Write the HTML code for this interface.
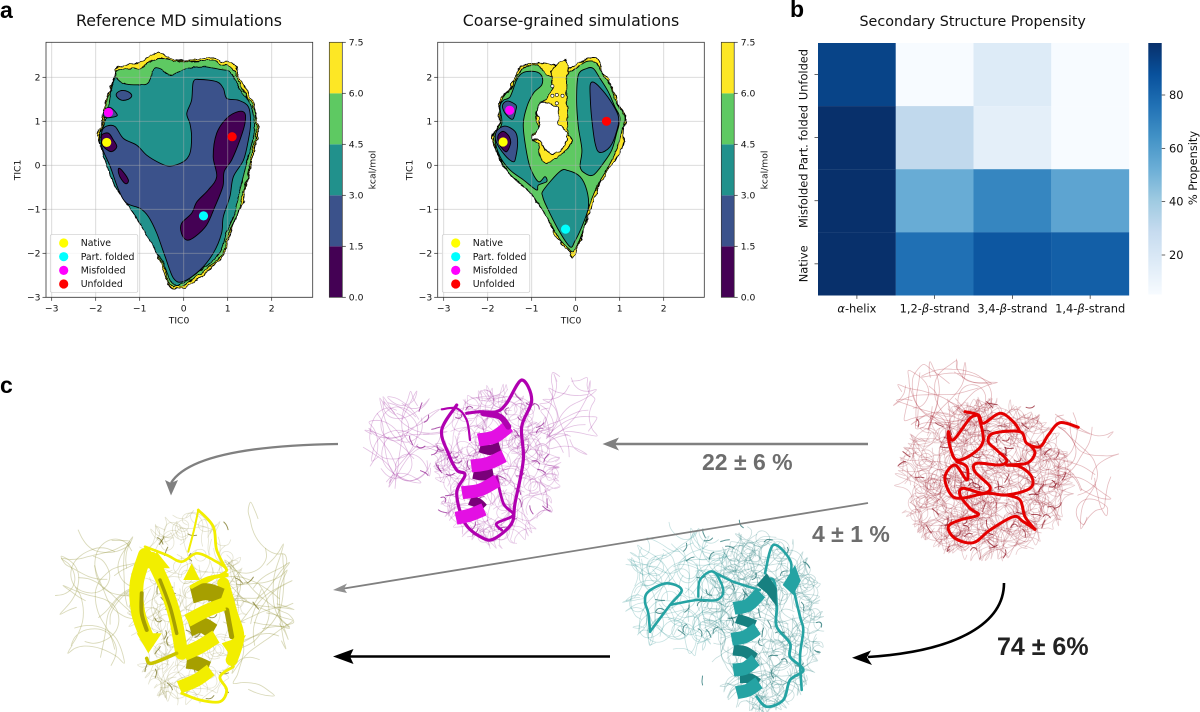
<!DOCTYPE html>
<html lang="en">
<head>
<meta charset="utf-8">
<title>Protein folding free-energy landscapes</title>
<style>
html,body{margin:0;padding:0;background:#fff;width:1200px;height:712px;overflow:hidden}
svg{display:block}
text{font-family:"DejaVu Sans","Liberation Sans",sans-serif;fill:#111}
.panel-letter{font-family:"Liberation Sans",sans-serif;font-weight:bold;font-size:23px;fill:#000}
.pct{font-family:"Liberation Sans",sans-serif;font-weight:bold}
</style>
</head>
<body>
<svg id="figure" xmlns="http://www.w3.org/2000/svg" width="1200" height="712" viewBox="0 0 1200 712">
  <defs>
    <filter id="rough" filterUnits="userSpaceOnUse" x="0" y="0" width="1200" height="712" color-interpolation-filters="sRGB">
      <feTurbulence type="fractalNoise" baseFrequency="0.16" numOctaves="2" seed="4" result="n"/>
      <feDisplacementMap in="SourceGraphic" in2="n" scale="4.5" xChannelSelector="R" yChannelSelector="G"/>
    </filter>
    <filter id="roughFine" filterUnits="userSpaceOnUse" x="0" y="0" width="1200" height="712" color-interpolation-filters="sRGB">
      <feTurbulence type="fractalNoise" baseFrequency="0.2" numOctaves="2" seed="9" result="n"/>
      <feDisplacementMap in="SourceGraphic" in2="n" scale="2" xChannelSelector="R" yChannelSelector="G"/>
    </filter>
    <filter id="soft" filterUnits="userSpaceOnUse" x="0" y="340" width="1200" height="372" color-interpolation-filters="sRGB">
      <feGaussianBlur stdDeviation="0.35"/>
    </filter>
  </defs>
  <rect width="1200" height="712" fill="#fff"/>
  <text class="panel-letter" x="0" y="18">a</text>
  <text class="panel-letter" x="790" y="17">b</text>
  <text class="panel-letter" x="0" y="393">c</text>

  <text x="179" y="26" font-size="15.8" text-anchor="middle">Reference MD simulations</text>
  <text x="571" y="26" font-size="15.8" text-anchor="middle">Coarse-grained simulations</text>
  <text x="972.7" y="26" font-size="14.3" text-anchor="middle">Secondary Structure Propensity</text>

  <g id="ref-plot"></g>
  <g id="cg-plot"></g>
  <g id="heatmap"></g>

  <text x="179" y="323.5" font-size="9.2" text-anchor="middle">TIC0</text>
  <text transform="translate(20.5,170) rotate(-90)" font-size="9.2" text-anchor="middle">TIC1</text>
  <text transform="translate(375.5,170) rotate(-90)" font-size="9.2" text-anchor="middle">kcal/mol</text>
  <text x="571" y="323.5" font-size="9.2" text-anchor="middle">TIC0</text>
  <text transform="translate(412.5,170) rotate(-90)" font-size="9.2" text-anchor="middle">TIC1</text>
  <text transform="translate(767.5,170) rotate(-90)" font-size="9.2" text-anchor="middle">kcal/mol</text>
  <text transform="translate(1197,168) rotate(-90)" font-size="11.4" text-anchor="middle">% Propensity</text>

  <g id="proteins" filter="url(#soft)"></g>

  <g>
    <path d="M338,444 C270,445 190,452 171,483" fill="none" stroke="#808080" stroke-width="2.3"/>
    <polygon points="171,495.5 165,480 171,483 178,480" fill="#808080"/>
    <line x1="868" y1="444" x2="614" y2="444" stroke="#808080" stroke-width="2.6"/>
    <polygon points="602.5,444 619,437.5 615,444 619,450.5" fill="#808080"/>
    <line x1="868" y1="503" x2="344" y2="588.5" stroke="#808080" stroke-width="1.8"/>
    <polygon points="333,590 347,583.5 344,588.5 347,593" fill="#909090"/>
    <line x1="610" y1="656.5" x2="350" y2="656.5" stroke="#000" stroke-width="2.6"/>
    <polygon points="333,656.5 353.5,649 350,656.5 353.5,664" fill="#000"/>
    <path d="M1004,583 C1004,622 960,651 868,657" fill="none" stroke="#000" stroke-width="2.6"/>
    <polygon points="852,657.7 871,650.5 867,657.3 872,665" fill="#000"/>
  </g>
  <text class="pct" x="702" y="470" font-size="23" style="fill:#6d6d6d">22 ± 6 %</text>
  <text class="pct" x="812" y="542" font-size="23" style="fill:#6d6d6d">4 ± 1 %</text>
  <text class="pct" x="997" y="655" font-size="25" style="fill:#222">74 ± 6%</text>
</svg>

<script>
/* ---------- chart data (TIC coordinates, energies, propensities) ---------- */
const tic0TickValues = [-3, -2, -1, 0, 1, 2];
const tic1TickValues = [-3, -2, -1, 0, 1, 2];
const energyLevels = [0, 1.5, 3, 4.5, 6, 7.5];
const energyLabels = ['0.0', '1.5', '3.0', '4.5', '6.0', '7.5'];
const stateNames = ['Native', 'Part. folded', 'Misfolded', 'Unfolded'];
const refStateTic0 = [-1.75, 0.45, -1.71, 1.10];
const refStateTic1 = [0.52, -1.15, 1.20, 0.65];
const cgStateTic0 = [-1.65, -0.23, -1.50, 0.70];
const cgStateTic1 = [0.53, -1.45, 1.25, 1.00];

const refLevel6 = [[-1.52,2.20],[-1.33,2.28],[-1.14,2.32],[-.95,2.36],[-.84,2.45],[-.55,2.55],[-.35,2.45],[-.08,2.38],[.30,2.41],[.67,2.45],[.86,2.36],[1.17,2.30],[1.24,2.03],[1.43,1.69],[1.60,1.37],[1.66,1.08],[1.70,.77],[1.62,.42],[1.51,-.11],[1.39,-.56],[1.34,-.86],[1.10,-1.42],[.96,-1.92],[.70,-2.26],[.35,-2.58],[0,-2.78],[-.31,-2.78],[-.45,-2.42],[-.67,-1.87],[-1.10,-1.12],[-1.48,-.56],[-1.73,.02],[-1.94,.58],[-1.94,.77],[-1.86,.92],[-1.78,1.41],[-1.66,1.77],[-1.56,2.05]];
const refLevel45 = [[-1.56,2.05],[-1.48,2.17],[-1.14,2.20],[-.99,2.18],[-.84,2.32],[-.54,2.43],[-.16,2.36],[.22,2.36],[.67,2.38],[.86,2.28],[1.13,2.20],[1.22,1.98],[1.39,1.64],[1.58,1.33],[1.64,1.03],[1.66,.73],[1.55,.27],[1.47,-.18],[1.32,-.71],[1.24,-1.09],[1.05,-1.47],[.92,-1.92],[.67,-2.23],[.30,-2.53],[-.01,-2.72],[-.31,-2.72],[-.42,-2.38],[-.65,-1.89],[-1.07,-1.17],[-1.48,-.56],[-1.71,.01],[-1.90,.54],[-1.90,.77],[-1.83,.92],[-1.75,1.41],[-1.64,1.75]];
const refLevel3 = [[-1.56,1.98],[-1.37,1.86],[-.99,1.83],[-.80,1.88],[-.69,2.18],[-.54,2.20],[-.31,2.05],[.07,2.20],[.45,2.24],[.83,2.18],[1.05,2.13],[1.17,1.94],[1.32,1.64],[1.51,1.41],[1.60,1.03],[1.60,.73],[1.51,.35],[1.39,-.11],[1.24,-.71],[1.17,-1.09],[.98,-1.51],[.86,-1.92],[.64,-2.19],[.30,-2.45],[-.01,-2.68],[-.27,-2.68],[-.46,-2.23],[-.69,-1.85],[-1.14,-1.09],[-1.56,-.48],[-1.75,.01],[-1.90,.50],[-1.90,.73],[-1.81,.92],[-1.71,1.33],[-1.64,1.71]];
const refLevel15Main = [[.22,1.90],[.37,1.95],[.75,1.90],[.90,1.75],[.98,1.52],[1.24,1.48],[1.47,1.33],[1.52,.95],[1.47,.58],[1.36,.12],[1.13,-.26],[1.05,-.71],[.90,-1.17],[.86,-1.55],[.67,-2.0],[.37,-2.38],[-.01,-2.64],[-.23,-2.57],[-.42,-2.08],[-.61,-1.55],[-.80,-1.17],[-.99,-.98],[-1.30,-.86],[-1.48,-.56],[-1.67,-.03],[-1.86,.42],[-1.86,.77],[-1.75,.89],[-1.56,.88],[-1.37,.61],[-1.07,.46],[-.84,.23],[-.54,.05],[-.31,-.02],[-.01,.08],[.14,.27],[.18,.65],[.14,.95],[.07,1.18],[.18,1.48]];
const refLevel15Upper = [[-1.52,1.64],[-1.41,1.70],[-1.26,1.67],[-1.18,1.58],[-1.26,1.50],[-1.41,1.48],[-1.52,1.56]];
const refLevel15Misfolded = [[-1.83,1.18],[-1.75,1.30],[-1.64,1.30],[-1.51,1.14],[-1.64,1.09],[-1.79,1.09]];
const refLevel0Main = [[1.24,1.22],[1.39,1.18],[1.39,.95],[1.28,.58],[1.09,.12],[.92,-.14],[.89,-.48],[.71,-.94],[.52,-1.36],[.26,-1.62],[.07,-1.70],[-.05,-1.55],[-.05,-1.32],[.18,-1.09],[.30,-.83],[.56,-.56],[.75,-.26],[.67,.20],[.75,.73],[.98,1.07]];
const refLevel0Native = [[-1.86,.69],[-1.71,.73],[-1.60,.58],[-1.52,.42],[-1.64,.31],[-1.79,.39],[-1.86,.50]];
const refLevel0Lower = [[-1.48,-.07],[-1.41,-.11],[-1.26,-.33],[-1.31,-.42],[-1.41,-.33],[-1.48,-.18]];

const cgLevel6 = [[-1.30,2.20],[-.89,2.32],[-.70,2.32],[-.43,2.28],[-.24,2.41],[-.17,2.20],[.25,2.41],[.52,2.39],[.61,2.12],[.80,1.84],[.95,1.41],[1.14,1.10],[1.08,.77],[1.08,.42],[.75,-.10],[.56,-.40],[.42,-.75],[.29,-1.09],[.13,-1.60],[-.02,-2.04],[-.09,-2.08],[-.17,-1.92],[-.43,-1.66],[-.66,-1.17],[-.96,-.71],[-1.25,-.43],[-1.57,-.12],[-1.78,.23],[-1.89,.65],[-1.74,.95],[-1.75,1.33],[-1.66,1.58],[-1.49,1.73]];
const cgLevel45 = [[-1.23,2.17],[-.89,2.28],[-.58,2.02],[-.13,2.13],[.25,2.36],[.48,2.32],[.59,2.09],[.78,1.83],[.93,1.41],[1.12,1.09],[1.05,.77],[.93,.35],[.70,-.11],[.52,-.41],[.33,-.86],[.17,-1.47],[-.02,-1.92],[-.13,-1.92],[-.39,-1.64],[-.66,-1.17],[-.96,-.71],[-1.27,-.41],[-1.57,-.11],[-1.76,.23],[-1.87,.65],[-1.72,.95],[-1.73,1.33],[-1.64,1.56],[-1.49,1.71]];
const cgBarrierPatch = [[-.55,2.13],[-.28,2.39],[-.17,2.20],[-.20,1.86],[-.20,1.41],[-.17,.73],[-.09,.50],[-.36,.23],[-.66,.05],[-.81,.20],[-.85,.50],[-1.0,.61],[-.96,.73],[-.85,.84],[-.89,1.18],[-.66,1.56],[-.51,1.75]];
const cgUnsampledHole = [[-.81,1.41],[-.58,1.41],[-.39,1.26],[-.39,.95],[-.20,.73],[-.28,.42],[-.47,.27],[-.70,.35],[-.81,.58],[-1.0,.61],[-.89,.77],[-.81,1.03],[-.89,1.18]];
const cgHoleDotTic0 = [-.53, -.53, -.43, -.30, -.43];
const cgHoleDotTic1 = [1.80, 1.58, 1.41, 1.58, 1.60];
const cgLevel3Left = [[-1.34,1.94],[-1.19,2.11],[-.92,2.13],[-.77,2.03],[-.77,1.83],[-.96,1.64],[-1.11,1.33],[-1.19,.95],[-1.15,.50],[-1.04,-.03],[-.85,-.37],[-.70,-.26],[-.66,-.37],[-.85,-.45],[-.89,-.56],[-1.19,-.33],[-1.49,-.11],[-1.72,.20],[-1.83,.61],[-1.68,.95],[-1.72,1.33],[-1.64,1.48],[-1.49,1.56]];
const cgLevel3Right = [[.06,2.05],[.25,2.20],[.40,2.20],[.55,1.98],[.74,1.67],[.89,1.33],[1.01,1.07],[.93,.73],[.82,.35],[.63,.05],[.40,-.22],[.21,-.18],[.10,-.03],[.14,.35],[.06,.88],[.02,1.48]];
const cgLevel3Bottom = [[-.73,-.56],[-.36,-.14],[-.17,-.12],[.10,-.26],[.25,-.56],[.29,-.94],[.17,-1.32],[-.02,-1.73],[-.13,-1.85],[-.39,-1.47],[-.66,-.94],[-.75,-.71]];
const cgLevel15Right = [[.33,1.83],[.40,1.89],[.55,1.77],[.78,1.48],[.97,1.11],[.93,.77],[.78,.42],[.55,.29],[.44,.50],[.36,1.11],[.33,1.56]];
const cgLevel15Top = [[-1.64,1.41],[-1.53,1.46],[-1.36,1.37],[-1.36,1.26],[-1.43,1.05],[-1.57,1.14],[-1.66,1.30]];
const cgLevel15Bottom = [[-1.80,.77],[-1.61,.89],[-1.38,.77],[-1.32,.54],[-1.36,.20],[-1.42,.08],[-1.61,.23],[-1.81,.54]];
const cgLevel0Native = [[-1.76,.69],[-1.64,.77],[-1.51,.65],[-1.48,.50],[-1.57,.31],[-1.68,.39],[-1.76,.54]];

const structureClasses = ['\u03B1-helix', '1,2-\u03B2-strand', '3,4-\u03B2-strand', '1,4-\u03B2-strand'];
const foldingStates = ['Unfolded', 'Part. folded', 'Misfolded', 'Native'];
const unfoldedPropensity = [92, 5, 17, 5];
const partFoldedPropensity = [99, 30, 14, 5];
const misfoldedPropensity = [99, 53, 68, 56];
const nativePropensity = [99, 76, 85, 82];
const propensityTicks = [20, 40, 60, 80];

/* ---------- helpers ---------- */
const NS = 'http://www.w3.org/2000/svg';
function mk(parent, tag, attrs, name) {
  const el = document.createElementNS(NS, tag);
  for (const k in attrs) el.setAttribute(k, attrs[k]);
  
  
  parent.appendChild(el);
  return el;
}
function label(parent, x, y, str, size, anchor, name) {
  const t = mk(parent, 'text', {x: x, y: y, 'font-size': size, 'text-anchor': anchor}, name);
  t.textContent = str;
  return t;
}
function smoothClosed(pts) {
  const n = pts.length;
  let d = 'M' + pts[0][0].toFixed(1) + ',' + pts[0][1].toFixed(1);
  for (let i = 0; i < n; i++) {
    const p0 = pts[(i - 1 + n) % n], p1 = pts[i], p2 = pts[(i + 1) % n], p3 = pts[(i + 2) % n];
    d += 'C' + (p1[0] + (p2[0] - p0[0]) / 6).toFixed(1) + ',' + (p1[1] + (p2[1] - p0[1]) / 6).toFixed(1) + ' ' +
      (p2[0] - (p3[0] - p1[0]) / 6).toFixed(1) + ',' + (p2[1] - (p3[1] - p1[1]) / 6).toFixed(1) + ' ' +
      p2[0].toFixed(1) + ',' + p2[1].toFixed(1);
  }
  return d + 'Z';
}
function smoothOpen(pts) {
  const n = pts.length;
  let d = 'M' + pts[0][0].toFixed(1) + ',' + pts[0][1].toFixed(1);
  for (let i = 0; i < n - 1; i++) {
    const p0 = pts[Math.max(i - 1, 0)], p1 = pts[i], p2 = pts[i + 1], p3 = pts[Math.min(i + 2, n - 1)];
    d += 'C' + (p1[0] + (p2[0] - p0[0]) / 6).toFixed(1) + ',' + (p1[1] + (p2[1] - p0[1]) / 6).toFixed(1) + ' ' +
      (p2[0] - (p3[0] - p1[0]) / 6).toFixed(1) + ',' + (p2[1] - (p3[1] - p1[1]) / 6).toFixed(1) + ' ' +
      p2[0].toFixed(1) + ',' + p2[1].toFixed(1);
  }
  return d;
}

/* ---------- axis functions ---------- */
const yTic = v => 165.3 - 44 * v;
const xRef = v => 183.7 + 44 * v;
const xCg = v => 575.7 + 44 * v;
const yEnergy = v => 297.3 - v / 7.5 * 255;
const viridisBands = ['#440154', '#3b528b', '#21918c', '#5ec962', '#fde725'];

function contour(g, xf, data, color, name, filterId) {
  const p = mk(g, 'path', {d: smoothClosed(data.map(q => [xf(q[0]), yTic(q[1])])), fill: color, stroke: '#000', 'stroke-width': 0.9, 'stroke-linejoin': 'round'}, name);
  if (filterId) p.setAttribute('filter', 'url(#' + filterId + ')');
  return p;
}

function decorateLandscape(g, xf, left, right, cbLeft, cbRight, stateX, stateY, legendX, prefix) {
  // grid
  tic0TickValues.forEach(v => {
    mk(g, 'line', {x1: xf(v), x2: xf(v), y1: 42.3, y2: 297.3, stroke: '#b0b0b0', 'stroke-opacity': .5, 'stroke-width': .9}, prefix + '-x-gridline');
    mk(g, 'line', {x1: xf(v), x2: xf(v), y1: 297.3, y2: 300.8, stroke: '#222', 'stroke-width': .7}, prefix + '-x-tick');
    label(g, xf(v), 311.5, String(v).replace('-', '\u2212'), 9.2, 'middle', prefix + '-x-tick-label');
  });
  tic1TickValues.forEach(v => {
    mk(g, 'line', {x1: left, x2: right, y1: yTic(v), y2: yTic(v), stroke: '#b0b0b0', 'stroke-opacity': .5, 'stroke-width': .9}, prefix + '-y-gridline');
    mk(g, 'line', {x1: left - 3.5, x2: left, y1: yTic(v), y2: yTic(v), stroke: '#222', 'stroke-width': .7}, prefix + '-y-tick');
    label(g, left - 5.5, yTic(v) + 3.3, String(v).replace('-', '\u2212'), 9.2, 'end', prefix + '-y-tick-label');
  });
  // states
  stateNames.forEach((s, i) => {
    mk(g, 'circle', {cx: xf(stateX[i]), cy: yTic(stateY[i]), r: 4.6, fill: stateColors[i]}, prefix + '-state-point-' + s.toLowerCase().replace(/[. ]+/g, '-'));
  });
  mk(g, 'rect', {x: left, y: 42.3, width: right - left, height: 255, fill: 'none', stroke: '#333', 'stroke-width': .8}, prefix + '-plot-frame');
  // legend
  const lg = mk(g, 'g', {}, prefix + '-legend');
  mk(lg, 'rect', {x: legendX, y: 234.7, width: 87.5, height: 57.6, rx: 1.5, fill: '#fff', 'fill-opacity': .8, stroke: '#ccc', 'stroke-width': .7}, prefix + '-legend-box');
  stateNames.forEach((s, i) => {
    const ly = 243 + i * 13.67;
    mk(lg, 'circle', {cx: legendX + 13.4, cy: ly, r: 4.6, fill: stateColors[i]}, prefix + '-legend-marker');
    label(lg, legendX + 30.4, ly + 3.2, s, 9.4, 'start', prefix + '-legend-entry');
  });
  // colour bar
  viridisBands.forEach((c, i) => {
    mk(g, 'rect', {x: cbLeft, y: yEnergy(energyLevels[i + 1]), width: cbRight - cbLeft, height: yEnergy(energyLevels[i]) - yEnergy(energyLevels[i + 1]), fill: c}, prefix + '-colorbar-band');
  });
  mk(g, 'rect', {x: cbLeft, y: 42.3, width: cbRight - cbLeft, height: 255, fill: 'none', stroke: '#333', 'stroke-width': .7}, prefix + '-colorbar-frame');
  energyLevels.forEach((v, i) => {
    mk(g, 'line', {x1: cbRight, x2: cbRight + 3.5, y1: yEnergy(v), y2: yEnergy(v), stroke: '#222', 'stroke-width': .7}, prefix + '-colorbar-tick');
    label(g, cbRight + 6.5, yEnergy(v) + 3.3, energyLabels[i], 9.2, 'start', prefix + '-colorbar-tick-label');
  });
}
const stateColors = ['#ffff00', '#00ffff', '#ff00ff', '#ff0000'];

/* ---------- reference landscape ---------- */
const refG = document.getElementById('ref-plot');
mk(refG, 'rect', {x: 46, y: 42.3, width: 266.7, height: 255, fill: '#fff'}, 'reference-plot-area');
contour(refG, xRef, refLevel6, viridisBands[4], 'reference-contour-6-to-7.5', 'rough');
contour(refG, xRef, refLevel45, viridisBands[3], 'reference-contour-4.5-to-6', 'rough');
contour(refG, xRef, refLevel3, viridisBands[2], 'reference-contour-3-to-4.5', 'roughFine');
contour(refG, xRef, refLevel15Main, viridisBands[1], 'reference-contour-1.5-to-3-main');
contour(refG, xRef, refLevel15Upper, viridisBands[1], 'reference-contour-1.5-to-3-upper');
contour(refG, xRef, refLevel15Misfolded, viridisBands[1], 'reference-contour-1.5-to-3-misfolded');
contour(refG, xRef, refLevel0Main, viridisBands[0], 'reference-contour-0-to-1.5-main');
contour(refG, xRef, refLevel0Native, viridisBands[0], 'reference-contour-0-to-1.5-native');
contour(refG, xRef, refLevel0Lower, viridisBands[0], 'reference-contour-0-to-1.5-lower');
decorateLandscape(refG, xRef, 46, 312.7, 329.3, 342.3, refStateTic0, refStateTic1, 50.3, 'reference');

/* ---------- coarse-grained landscape ---------- */
const cgG = document.getElementById('cg-plot');
mk(cgG, 'rect', {x: 437.7, y: 42.3, width: 266.6, height: 255, fill: '#fff'}, 'coarse-grained-plot-area');
contour(cgG, xCg, cgLevel6, viridisBands[4], 'coarse-grained-contour-6-to-7.5', 'rough');
contour(cgG, xCg, cgLevel45, viridisBands[3], 'coarse-grained-contour-4.5-to-6', 'roughFine');
contour(cgG, xCg, cgBarrierPatch, viridisBands[4], 'coarse-grained-barrier-patch', 'rough');
contour(cgG, xCg, cgUnsampledHole, '#ffffff', 'coarse-grained-unsampled-hole', 'rough');
cgHoleDotTic0.forEach((v, i) => {
  mk(cgG, 'circle', {cx: xCg(v), cy: yTic(cgHoleDotTic1[i]), r: 1.6, fill: '#fff', stroke: '#000', 'stroke-width': .6}, 'coarse-grained-unsampled-dot');
});
contour(cgG, xCg, cgLevel3Left, viridisBands[2], 'coarse-grained-contour-3-to-4.5-left');
contour(cgG, xCg, cgLevel3Right, viridisBands[2], 'coarse-grained-contour-3-to-4.5-right');
contour(cgG, xCg, cgLevel3Bottom, viridisBands[2], 'coarse-grained-contour-3-to-4.5-bottom');
contour(cgG, xCg, cgLevel15Right, viridisBands[1], 'coarse-grained-contour-1.5-to-3-right');
contour(cgG, xCg, cgLevel15Top, viridisBands[1], 'coarse-grained-contour-1.5-to-3-top');
contour(cgG, xCg, cgLevel15Bottom, viridisBands[1], 'coarse-grained-contour-1.5-to-3-bottom');
contour(cgG, xCg, cgLevel0Native, viridisBands[0], 'coarse-grained-contour-0-to-1.5-native');
decorateLandscape(cgG, xCg, 437.7, 704.3, 721.3, 734.2, cgStateTic0, cgStateTic1, 442.3, 'coarse-grained');

/* ---------- heatmap ---------- */
const blues = ['#f7fbff', '#deebf7', '#c6dbef', '#9ecae1', '#6baed6', '#4292c6', '#2171b5', '#08519c', '#08306b'];
const vMin = 5, vMax = 99;
function bluesColor(v) {
  const t = Math.max(0, Math.min(1, (v - vMin) / (vMax - vMin))) * (blues.length - 1);
  const i = Math.min(Math.floor(t), blues.length - 2), f = t - i;
  const a = parseInt(blues[i].slice(1), 16), b = parseInt(blues[i + 1].slice(1), 16);
  const ch = s => Math.round(((a >> s) & 255) * (1 - f) + ((b >> s) & 255) * f);
  return 'rgb(' + ch(16) + ',' + ch(8) + ',' + ch(0) + ')';
}
const xCol = i => 818 + i * 77.75;
const yRow = i => 43 + i * 63.1;
const yProp = v => 255 - (v - 20) * 2.6667;
const heatG = document.getElementById('heatmap');
[unfoldedPropensity, partFoldedPropensity, misfoldedPropensity, nativePropensity].forEach((row, r) => {
  row.forEach((v, c) => {
    const cell = mk(heatG, 'rect', {x: xCol(c), y: yRow(r), width: 77.9, height: 63.2, fill: bluesColor(v)}, 'heatmap-cell');
    cell.setAttribute('data-value', v);
  });
  const yc = yRow(r) + 31.55;
  mk(heatG, 'line', {x1: 814.5, x2: 818, y1: yc, y2: yc, stroke: '#222', 'stroke-width': .7}, 'heatmap-y-tick');
  const t = mk(heatG, 'text', {transform: 'translate(807.5,' + yc + ') rotate(-90)', 'font-size': 11.4, 'text-anchor': 'middle'}, 'heatmap-y-tick-label');
  t.textContent = foldingStates[r];
});
structureClasses.forEach((s, c) => {
  const xc = xCol(c) + 38.9;
  mk(heatG, 'line', {x1: xc, x2: xc, y1: 295.4, y2: 298.9, stroke: '#222', 'stroke-width': .7}, 'heatmap-x-tick');
  const t = mk(heatG, 'text', {x: xc, y: 312.5, 'font-size': 11.4, 'text-anchor': 'middle'}, 'heatmap-x-tick-label');
  const parts = s.split(/(\u03B1|\u03B2)/);
  parts.forEach(p => {
    if (!p) return;
    const sp = mk(t, 'tspan', /[\u03B1\u03B2]/.test(p) ? {'font-style': 'italic'} : {}, 'heatmap-x-tick-label-part');
    sp.textContent = p;
  });
});
const defs = mk(heatG, 'defs', {}, 'heatmap-defs');
const grad = mk(defs, 'linearGradient', {id: 'bluesGrad', x1: 0, y1: 1, x2: 0, y2: 0}, 'blues-gradient');
blues.forEach((c, i) => {
  mk(grad, 'stop', {offset: i / (blues.length - 1), 'stop-color': c}, 'blues-gradient-stop');
});
mk(heatG, 'rect', {x: 1148.3, y: 43, width: 13.4, height: 251.5, fill: 'url(#bluesGrad)'}, 'heatmap-colorbar');
propensityTicks.forEach(v => {
  mk(heatG, 'line', {x1: 1161.7, x2: 1165.2, y1: yProp(v), y2: yProp(v), stroke: '#222', 'stroke-width': .7}, 'heatmap-colorbar-tick');
  label(heatG, 1169, yProp(v) + 4, String(v), 11.4, 'start', 'heatmap-colorbar-tick-label');
});

/* ---------- protein illustrations (not chart data) ---------- */
const pg = document.getElementById('proteins');
function lcg(seed) {
  let s = seed * 7919 + 13;
  return () => { s = (s * 1664525 + 1013904223) % 4294967296; return s / 4294967296; };
}
function tangle(parent, name, cx, cy, rx, ry, count, steps, stepLen, kMax, color, opacity, width, seed) {
  const r = lcg(seed);
  for (let n = 0; n < count; n++) {
    const ang = r() * 6.283, rad = Math.sqrt(r());
    let x = cx + Math.cos(ang) * rad * rx, y = cy + Math.sin(ang) * rad * ry;
    let h = r() * 6.283, k = (r() - .5) * kMax;
    const pts = [[x, y]];
    for (let i = 0; i < steps; i++) {
      k += (r() - .5) * kMax * .7;
      k = Math.max(-kMax, Math.min(kMax, k));
      h += k;
      x += Math.cos(h) * stepLen;
      y += Math.sin(h) * stepLen;
      const dx = (x - cx) / rx, dy = (y - cy) / ry;
      if (dx * dx + dy * dy > 1.1) { h = Math.atan2(cy - y, cx - x) + (r() - .5); k *= .3; }
      pts.push([x, y]);
    }
    mk(parent, 'path', {d: smoothOpen(pts), fill: 'none', stroke: color, 'stroke-opacity': opacity, 'stroke-width': width, 'stroke-linecap': 'round'}, name);
  }
}
function ribbon(parent, name, ox, oy, zoomPts, width, color) {
  return mk(parent, 'path', {d: smoothOpen(zoomPts.map(p => [ox + p[0] / 3, oy + p[1] / 3])), fill: 'none', stroke: color, 'stroke-width': width, 'stroke-linecap': 'round', 'stroke-linejoin': 'round'}, name);
}
function helixBand(parent, name, ox, oy, zoomPts, width, color) {
  const b = ribbon(parent, name, ox, oy, zoomPts, width, color);
  b.setAttribute('stroke-linecap', 'butt');
  return b;
}
function sheet(parent, name, ox, oy, zoomPts, color) {
  return mk(parent, 'polygon', {points: zoomPts.map(p => (ox + p[0] / 3).toFixed(1) + ',' + (oy + p[1] / 3).toFixed(1)).join(' '), fill: color}, name);
}

/* yellow: native */
const yel = mk(pg, 'g', {}, 'native-structure');
tangle(yel, 'native-ensemble-strand', 100, 595, 35, 75, 12, 16, 9, .55, '#8f8f30', .33, .9, 11);
tangle(yel, 'native-ensemble-strand', 258, 605, 28, 92, 14, 16, 9, .55, '#8f8f30', .33, .9, 12);
tangle(yel, 'native-ensemble-strand', 187, 608, 55, 92, 110, 12, 5, .9, '#7d7a20', .2, .8, 13);
tangle(yel, 'native-ensemble-end', 187, 608, 75, 95, 40, 3, 3, 1, '#6f6a10', .7, 1, 14);
const YC = '#f2ee00', YD = '#a69f00';
const yOX = 0, yOY = 480;
ribbon(yel, 'native-strand-2', yOX, yOY, [[455,235],[495,320],[525,410],[545,520]], 13, YC);
ribbon(yel, 'native-strand-2-shade', yOX, yOY, [[480,300],[510,380],[530,460]], 3.5, YD);
sheet(yel, 'native-strand-2-head', yOX, yOY, [[440,265],[510,265],[470,215]], YC);
ribbon(yel, 'native-strand-1', yOX, yOY, [[435,225],[410,310],[415,400],[440,470]], 14, YC);
ribbon(yel, 'native-strand-1-shade', yOX, yOY, [[425,340],[425,400],[440,450]], 4, YD);
sheet(yel, 'native-strand-1-head', yOX, yOY, [[410,460],[485,460],[445,520]], YC);
ribbon(yel, 'native-bottom-turn', yOX, yOY, [[440,535],[455,550],[530,520]], 3.5, '#c9c400');
ribbon(yel, 'native-top-strand', yOX, yOY, [[565,215],[582,150],[595,90]], 2, YC);
ribbon(yel, 'native-top-loop', yOX, yOY, [[595,90],[640,140],[650,210],[680,270]], 2.8, YC);
ribbon(yel, 'native-cross-loop', yOX, yOY, [[435,200],[500,225],[545,245],[590,220],[640,240],[680,270],[640,295],[580,325]], 2.6, YC);
ribbon(yel, 'native-strand-3', yOX, yOY, [[670,310],[695,400],[715,470],[695,540]], 12, YC);
ribbon(yel, 'native-strand-3-shade', yOX, yOY, [[680,390],[695,470]], 5, YD);
sheet(yel, 'native-strand-3-head', yOX, yOY, [[550,300],[600,300],[575,250]], YC);
sheet(yel, 'native-strand-3b-head', yOX, yOY, [[665,490],[738,465],[700,540]], YC);
helixBand(yel, 'native-helix-back-1', yOX, yOY, [[575,345],[620,335],[665,350]], 17, YD);
helixBand(yel, 'native-helix-back-2', yOX, yOY, [[570,445],[605,435],[640,455]], 16, YD);
helixBand(yel, 'native-helix-back-3', yOX, yOY, [[560,545],[590,550],[625,565]], 14, YD);
helixBand(yel, 'native-helix-turn-1', yOX, yOY, [[562,422],[620,392],[672,372]], 13, YC);
helixBand(yel, 'native-helix-turn-2', yOX, yOY, [[552,522],[600,500],[648,470]], 14, YC);
helixBand(yel, 'native-helix-turn-3', yOX, yOY, [[538,622],[590,600],[632,570]], 13, YC);
ribbon(yel, 'native-helix-turn-0', yOX, yOY, [[575,320],[625,295],[680,285]], 4, YC);
ribbon(yel, 'native-lower-loop', yOX, yOY, [[545,640],[600,660],[660,665],[680,630],[660,590],[700,560]], 2.8, YC);

/* magenta: misfolded */
const mag = mk(pg, 'g', {}, 'misfolded-structure');
tangle(mag, 'misfolded-ensemble-strand', 405, 440, 35, 45, 18, 14, 8, .6, '#a030a0', .3, .8, 21);
tangle(mag, 'misfolded-ensemble-strand', 570, 415, 24, 45, 9, 14, 8, .6, '#a030a0', .3, .8, 22);
tangle(mag, 'misfolded-ensemble-strand', 497, 467, 58, 75, 150, 12, 5, .9, '#901090', .22, .8, 23);
tangle(mag, 'misfolded-ensemble-end', 485, 460, 85, 78, 45, 3, 3, 1, '#8a108a', .7, 1, 24);
const MC = '#b000b0', MB = '#e310e3', MD = '#7a007a';
const mOX = 340, mOY = 360;
ribbon(mag, 'misfolded-backbone-left', mOX, mOY, [[305,148],[350,145],[380,180],[390,240]], 2.2, MC);
ribbon(mag, 'misfolded-backbone-main', mOX, mOY, [[350,135],[305,210],[325,280],[350,330],[375,345],[350,400],[375,490],[430,535],[465,535],[515,490],[525,430],[550,300],[545,200],[575,120],[545,60],[500,130],[470,155],[420,155],[380,160]], 3.2, MC);
ribbon(mag, 'misfolded-backbone-inner', mOX, mOY, [[470,350],[490,430],[520,465],[470,490],[485,510]], 2.8, MC);
helixBand(mag, 'misfolded-helix-back-1', mOX, mOY, [[420,262],[450,270],[480,260]], 10, MD);
helixBand(mag, 'misfolded-helix-back-2', mOX, mOY, [[400,340],[430,345],[460,340]], 11, MD);
helixBand(mag, 'misfolded-helix-back-3', mOX, mOY, [[390,420],[415,430],[430,445]], 10, MD);
helixBand(mag, 'misfolded-helix-turn-1', mOX, mOY, [[415,240],[465,230],[507,198]], 13, MB);
ribbon(mag, 'misfolded-helix-top', mOX, mOY, [[430,160],[480,170],[505,200]], 6, MC);
helixBand(mag, 'misfolded-helix-turn-2', mOX, mOY, [[394,318],[445,310],[492,288]], 13, MB);
helixBand(mag, 'misfolded-helix-turn-3', mOX, mOY, [[366,398],[420,390],[472,362]], 13, MB);
helixBand(mag, 'misfolded-helix-turn-4', mOX, mOY, [[348,475],[390,465],[432,448]], 13, MB);

/* teal: partially folded */
const tea = mk(pg, 'g', {}, 'partially-folded-structure');
tangle(tea, 'partially-folded-ensemble-strand', 680, 590, 52, 60, 55, 14, 6, .75, '#2a8f8f', .27, .8, 31);
tangle(tea, 'partially-folded-ensemble-strand', 763, 620, 55, 88, 190, 12, 5, .9, '#127070', .24, .8, 32);
tangle(tea, 'partially-folded-ensemble-end', 740, 610, 85, 90, 50, 3, 3, 1, '#0f6666', .7, 1, 33);
const TC = '#25a3a3', TD = '#178080';
const tOX = 600, tOY = 510;
ribbon(tea, 'partially-folded-loop', tOX, tOY, [[150,365],[145,310],[135,275],[145,245],[200,220],[245,240],[210,285],[165,345],[150,365]], 2.6, TC);
ribbon(tea, 'partially-folded-loop-2', tOX, tOY, [[210,285],[290,270],[350,270],[370,240],[340,185],[300,210],[295,260]], 2.4, TC);
ribbon(tea, 'partially-folded-loop-3', tOX, tOY, [[340,185],[400,215],[480,240]], 2.4, TC);
ribbon(tea, 'partially-folded-strand-1', tOX, tOY, [[480,220],[520,210],[530,290],[530,350],[570,400],[570,440],[610,480],[570,510],[550,570],[500,590],[470,560]], 2.8, TC);
ribbon(tea, 'partially-folded-strand-2', tOX, tOY, [[495,190],[520,105],[570,150],[575,210],[600,320],[610,360],[600,440],[605,540]], 2.6, TC);
sheet(tea, 'partially-folded-sheet-1', tOX, tOY, [[470,225],[500,190],[530,235],[530,290],[500,250]], TD);
sheet(tea, 'partially-folded-sheet-2', tOX, tOY, [[548,225],[585,165],[602,212],[580,255]], TC);
helixBand(tea, 'partially-folded-helix-back-1', tOX, tOY, [[410,325],[440,335],[465,345]], 10, TD);
helixBand(tea, 'partially-folded-helix-back-2', tOX, tOY, [[400,420],[435,425],[465,445]], 11, TD);
helixBand(tea, 'partially-folded-helix-back-3', tOX, tOY, [[420,505],[450,505],[475,520]], 10, TD);
helixBand(tea, 'partially-folded-helix-turn-1', tOX, tOY, [[402,295],[445,285],[482,248]], 13, TC);
helixBand(tea, 'partially-folded-helix-turn-2', tOX, tOY, [[395,388],[435,380],[472,356]], 13, TC);
helixBand(tea, 'partially-folded-helix-turn-3', tOX, tOY, [[400,480],[435,475],[467,450]], 13, TC);
helixBand(tea, 'partially-folded-helix-turn-4', tOX, tOY, [[410,548],[445,540],[477,518]], 13, TC);

/* red: unfolded */
const red = mk(pg, 'g', {}, 'unfolded-structure');
tangle(red, 'unfolded-ensemble-strand', 945, 395, 45, 32, 16, 14, 8, .6, '#a82030', .3, .8, 41);
tangle(red, 'unfolded-ensemble-strand', 1085, 455, 28, 65, 9, 14, 8, .6, '#a82030', .3, .8, 42);
tangle(red, 'unfolded-ensemble-strand', 985, 480, 82, 75, 360, 12, 5, .9, '#951020', .22, .8, 43);
tangle(red, 'unfolded-ensemble-end', 985, 475, 85, 80, 70, 3, 3, 1, '#8a0a18', .7, 1, 44);
const RC = '#e40000';
const rOX = 860, rOY = 350;
ribbon(red, 'unfolded-backbone-1', rOX, rOY, [[655,232],[600,218],[565,255],[540,290],[500,280],[480,245],[400,250],[385,275],[410,300],[440,330],[420,345],[350,340],[345,365],[390,410],[370,430],[310,415],[300,435],[330,475],[355,495],[300,510],[265,530],[285,565],[340,578],[390,540],[460,500],[490,515],[525,538]], 3, RC);
ribbon(red, 'unfolded-backbone-2', rOX, rOY, [[315,185],[355,195],[370,220],[420,190],[460,215],[480,245]], 3, RC);
ribbon(red, 'unfolded-backbone-3', rOX, rOY, [[355,195],[370,270],[340,310],[290,330],[270,290],[265,245],[280,270],[330,205],[355,195]], 3, RC);
ribbon(red, 'unfolded-backbone-4', rOX, rOY, [[290,335],[320,350],[320,390],[285,345],[255,380],[270,430],[300,445],[380,430],[440,435],[510,415],[515,380],[480,350],[440,345],[500,340],[525,310],[510,285]], 3, RC);
ribbon(red, 'unfolded-backbone-5', rOX, rOY, [[440,435],[480,450],[495,500],[525,538]], 3, RC);
</script>
</body>
</html>
